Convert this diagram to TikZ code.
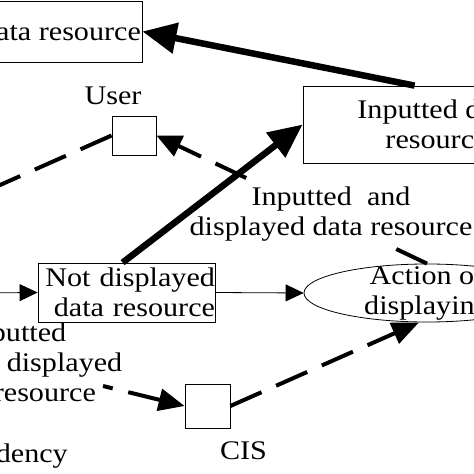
\documentclass[tikz,border=0pt]{standalone}
\usepackage{fontspec}
\setmainfont{Liberation Serif}[FakeStretch=1.12]
\usetikzlibrary{arrows.meta,shapes.geometric}
\begin{document}
\begin{tikzpicture}[x=1bp,y=-1bp,
  txt/.style={font=\fontsize{27}{30}\selectfont, align=center, inner sep=0pt},
  box/.style={draw, line width=0.8bp, rectangle, inner sep=0pt},
  thickarr/.style={line width=6.5bp, -{Triangle[length=34bp,width=30bp]}},
  dasharr/.style={line width=4bp, dash pattern=on 34bp off 16bp},
  thinarr/.style={line width=0.8bp, -{Triangle[length=18bp,width=17bp]}},
]
\useasboundingbox (0,0) rectangle (474,474);
\clip (0,0) rectangle (474,474);

% boxes
\node[box, txt, minimum width=162bp, minimum height=61bp] (tl) at (61,31.5) {data resource};
\node[box, txt, minimum width=267bp, minimum height=77bp] (inp) at (436.5,124.5) {Inputted data\\resource};
\node[box, txt, text width=177bp, align=right, minimum height=59bp] (nd) at (126.5,292.5) {Not displayed\\data resource};
\node[draw, ellipse, line width=0.8bp, minimum width=246bp, minimum height=58bp, inner sep=0pt,
      label={[txt]center:Action of\\displaying}] (ell) at (427,293) {};
\node[box, minimum width=44bp, minimum height=39bp] (user) at (134,135.5) {};
\node[txt] (userlab) at (113,96) {User};
\node[box, minimum width=45bp, minimum height=44bp] (cis) at (207.5,406) {};
\node[txt] (cislab) at (243.5,451) {CIS};
\node[txt] (leftlab) at (16,362) {Inputted\\and not displayed\\data resource};
\node[txt, anchor=base east] (dep) at (68,462) {Dependency};

% dashed dependency connectors
\draw[dasharr, -{Triangle[length=25bp,width=22bp]}] (ell.north) -- (user.east);
\coordinate (uleft) at (-45,205);
\draw[dasharr] (user.west) -- (uleft);
\coordinate (cisin) at (103,386);
\draw[dasharr, dash phase=24bp, -{Triangle[length=26bp,width=22bp]}] (cisin) -- (cis.west);
\draw[dasharr, -{Triangle[length=27bp,width=22bp]}] (cis.east) -- ([xshift=-8bp]ell.south);

% label on the dashed connector
\node[txt, fill=white, inner sep=4bp] (midlab) at (331,214) {Inputted~~and\\displayed data resource};

% solid connectors
\draw[thickarr] ([xshift=112bp]inp.north west) -- (tl.east);
\draw[thickarr] ([xshift=85bp]nd.north west) -- (inp.west);
\coordinate (ndin) at (-30,293);
\draw[thinarr] (ndin) -- (nd.west);
\draw[thinarr] (nd.east) -- (ell.west);
\end{tikzpicture}
\end{document}
